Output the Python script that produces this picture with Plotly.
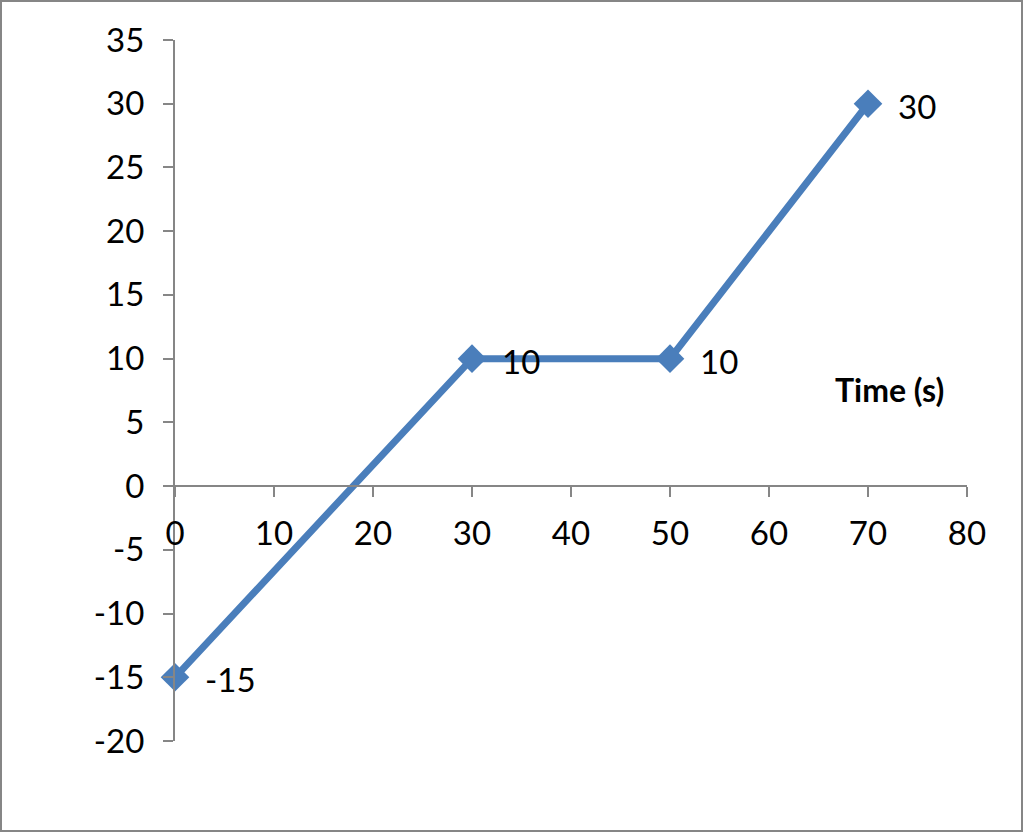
import plotly.graph_objects as go

time_s = [0, 30, 50, 70]
values = [-15, 10, 10, 30]
value_labels = ["-15", "10", "10", "30"]
x_ticks = [0, 10, 20, 30, 40, 50, 60, 70, 80]
y_ticks = [-20, -15, -10, -5, 0, 5, 10, 15, 20, 25, 30, 35]

W, H = 1024, 833
L, R, T, B = 175, 57, 40, 92
pw, ph = W - L - R, H - T - B

blue = "#4A7EBB"
axis_col = "#868686"
fam = "Lato, Carlito, Open Sans, sans-serif"
font = dict(family=fam, size=33, color="#000000")

fig = go.Figure()
fig.add_trace(go.Scatter(
    x=time_s, y=values, mode="lines+markers",
    line=dict(color=blue, width=7),
    marker=dict(symbol="diamond", size=22, color=blue),
    cliponaxis=False, showlegend=False, hoverinfo="skip",
))

annotations = [dict(x=xv, y=yv, text=t, xref="x", yref="y", showarrow=False,
                    xanchor="left", yanchor="middle", xshift=28, yshift=-2,
                    font=font)
               for xv, yv, t in zip(time_s, values, value_labels)]
annotations.append(dict(text="<b>Time (s)</b>", xref="paper", yref="paper",
                        x=(889 - L) / pw, y=(H - B - 389) / ph, showarrow=False,
                        xanchor="center", yanchor="middle",
                        font=dict(family=fam, size=32, color="#000000")))

y_min, y_max = -20, 35
fig.update_layout(
    width=W, height=H,
    margin=dict(l=L, r=R, t=T, b=B),
    paper_bgcolor="white", plot_bgcolor="white",
    font=font,
    xaxis=dict(range=[0, 80], tickvals=x_ticks, ticktext=[str(v) for v in x_ticks],
               showgrid=False, zeroline=False,
               showline=True, linecolor=axis_col, linewidth=2,
               ticks="outside", ticklen=10, tickwidth=2, tickcolor=axis_col,
               anchor="free", position=(0 - y_min) / (y_max - y_min),
               ticklabelstandoff=8, tickfont=font),
    yaxis=dict(range=[y_min, y_max], tickvals=y_ticks, ticktext=[str(v) for v in y_ticks],
               showgrid=False, zeroline=False,
               showline=True, linecolor=axis_col, linewidth=2,
               ticks="outside", ticklen=10, tickwidth=2, tickcolor=axis_col,
               ticklabelstandoff=12, tickfont=font),
    annotations=annotations,
    shapes=[dict(type="rect", xref="paper", yref="paper",
                 x0=-(L - 1) / pw, x1=1 + (R - 2) / pw,
                 y0=-(B - 2) / ph, y1=1 + (T - 1) / ph,
                 line=dict(color=axis_col, width=2), fillcolor="rgba(0,0,0,0)",
                 layer="below")],
)

fig.write_html("out.html", config={"displayModeBar": False},
               post_script="document.body.style.margin='0';document.body.style.overflow='hidden';")
